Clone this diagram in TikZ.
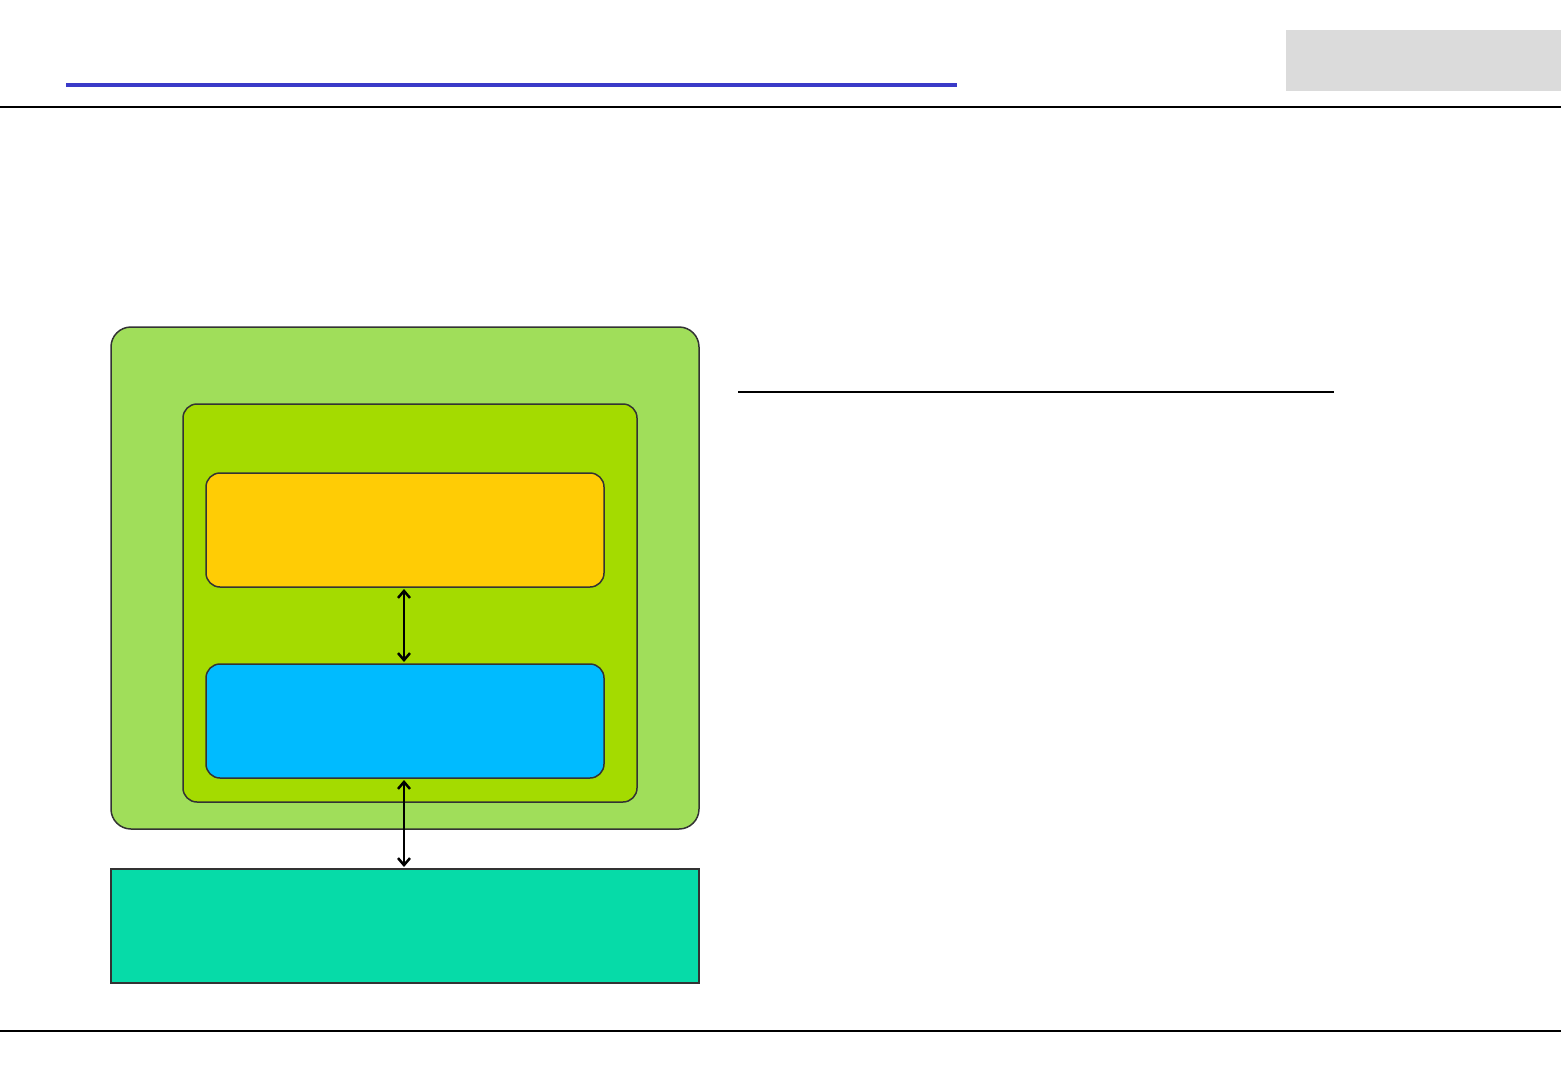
\documentclass[tikz,border=0pt]{standalone}
\usetikzlibrary{arrows.meta}
\begin{document}
\begin{tikzpicture}[x=1pt,y=-1pt,
  box/.style={draw=black!80,line width=1.5pt,rounded corners=14pt,inner sep=0pt},
  link/.style={line width=2.5pt,{Straight Barb[length=7pt,width=12pt]}-{Straight Barb[length=7pt,width=12pt]}}]
\useasboundingbox (0,0) rectangle (1561,1081);
\fill[white] (0,0) rectangle (1561,1081);
\draw[line width=4.5pt,draw={rgb,255:red,58;green,58;blue,200}] (66,85) coordinate (bl1) -- (957,85) coordinate (bl2);
\fill[gray!28] (1286,30) rectangle (1561,91);
\draw[line width=1.5pt] (0,107) coordinate (t1) -- (1561,107) coordinate (t2);
\draw[line width=1.5pt] (0,1031) coordinate (b1) -- (1561,1031) coordinate (b2);
\draw[box,rounded corners=20pt,fill={rgb,255:red,160;green,222;blue,90}] (111,327) rectangle (699,829);
\draw[box,fill={rgb,255:red,164;green,219;blue,0}] (183,404) rectangle (637,802);
\draw[box,fill={rgb,255:red,255;green,204;blue,5}] (206,473) rectangle (604,587);
\draw[box,fill={rgb,255:red,0;green,187;blue,255}] (206,664) rectangle (604,778);
\draw[line width=1.5pt,draw=black!80,fill={rgb,255:red,6;green,219;blue,168}] (111,869) rectangle (699,983);
\coordinate (o1) at (404,589); \coordinate (o2) at (404,662);
\coordinate (c1) at (404,780); \coordinate (c2) at (404,867);
\draw[link] (o1) -- (o2);
\draw[link] (c1) -- (c2);
\draw[line width=2.5pt] (738,392) coordinate (r1) -- (1334,392) coordinate (r2);
\end{tikzpicture}
\end{document}
